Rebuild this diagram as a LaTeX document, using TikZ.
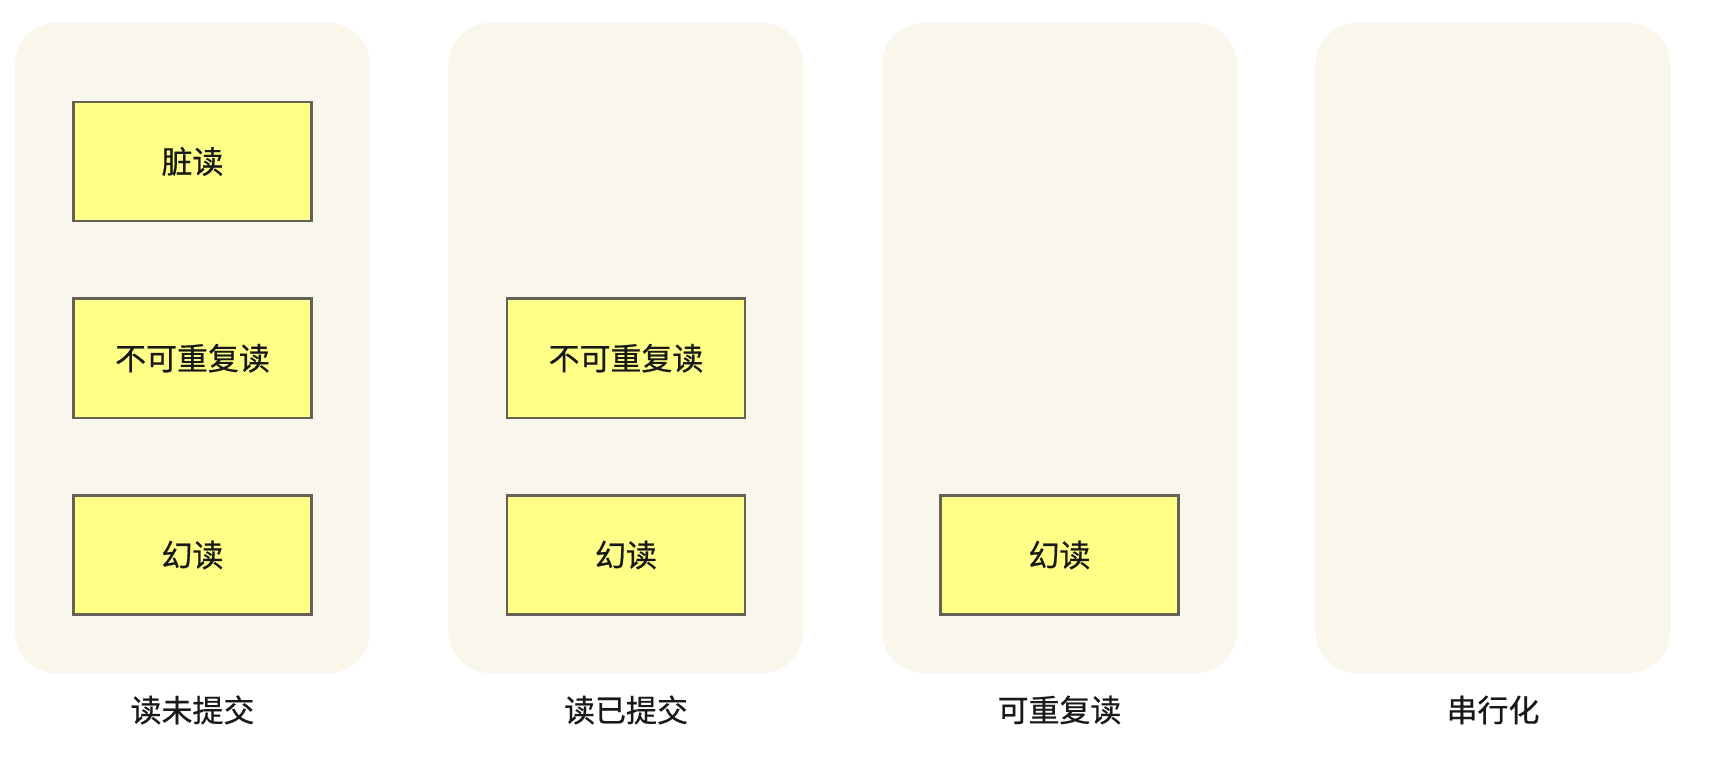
\documentclass[tikz,border=0pt]{standalone}
\usepackage{fontspec}
\setmainfont{Noto Sans CJK SC}
\newfontfamily\cnfont[FakeBold=0.6]{Noto Sans CJK SC}
\usetikzlibrary{positioning}

\definecolor{panelbg}{RGB}{249,247,236}
\definecolor{boxfill}{RGB}{255,255,136}
\definecolor{boxline}{RGB}{100,98,86}
\definecolor{textcol}{RGB}{25,25,25}

\begin{document}
\begin{tikzpicture}[x=0.01cm, y=-0.01cm,
		panel/.style={rounded corners=0.42cm, fill=panelbg, minimum width=3.55cm, minimum height=6.5cm},
		anomaly/.style={draw=boxline, line width=0.7pt, fill=boxfill, text=textcol, minimum width=2.38cm, minimum height=1.19cm, font=\cnfont\fontsize{8.8}{11}\selectfont},
		level/.style={text=textcol, font=\cnfont\fontsize{8.8}{11}\selectfont}]
		\useasboundingbox (0,0) rectangle (1712,770);
		\foreach \i/\name in {0/读未提交, 1/读已提交, 2/可重复读, 3/串行化} {
			\node[panel] (panel\i) at (192.5+433.5*\i, 348) {};
			\node[level] (level\i) at (192.5+433.5*\i, 710) {\name};
		}
		\foreach \i/\r/\txt in {0/0/脏读, 0/1/不可重复读, 0/2/幻读, 1/1/不可重复读, 1/2/幻读, 2/2/幻读} {
			\node[anomaly] (box\i\r) at (192.5+433.5*\i, 161.5+196.75*\r) {\txt};
		}
	\end{tikzpicture}
\end{document}
